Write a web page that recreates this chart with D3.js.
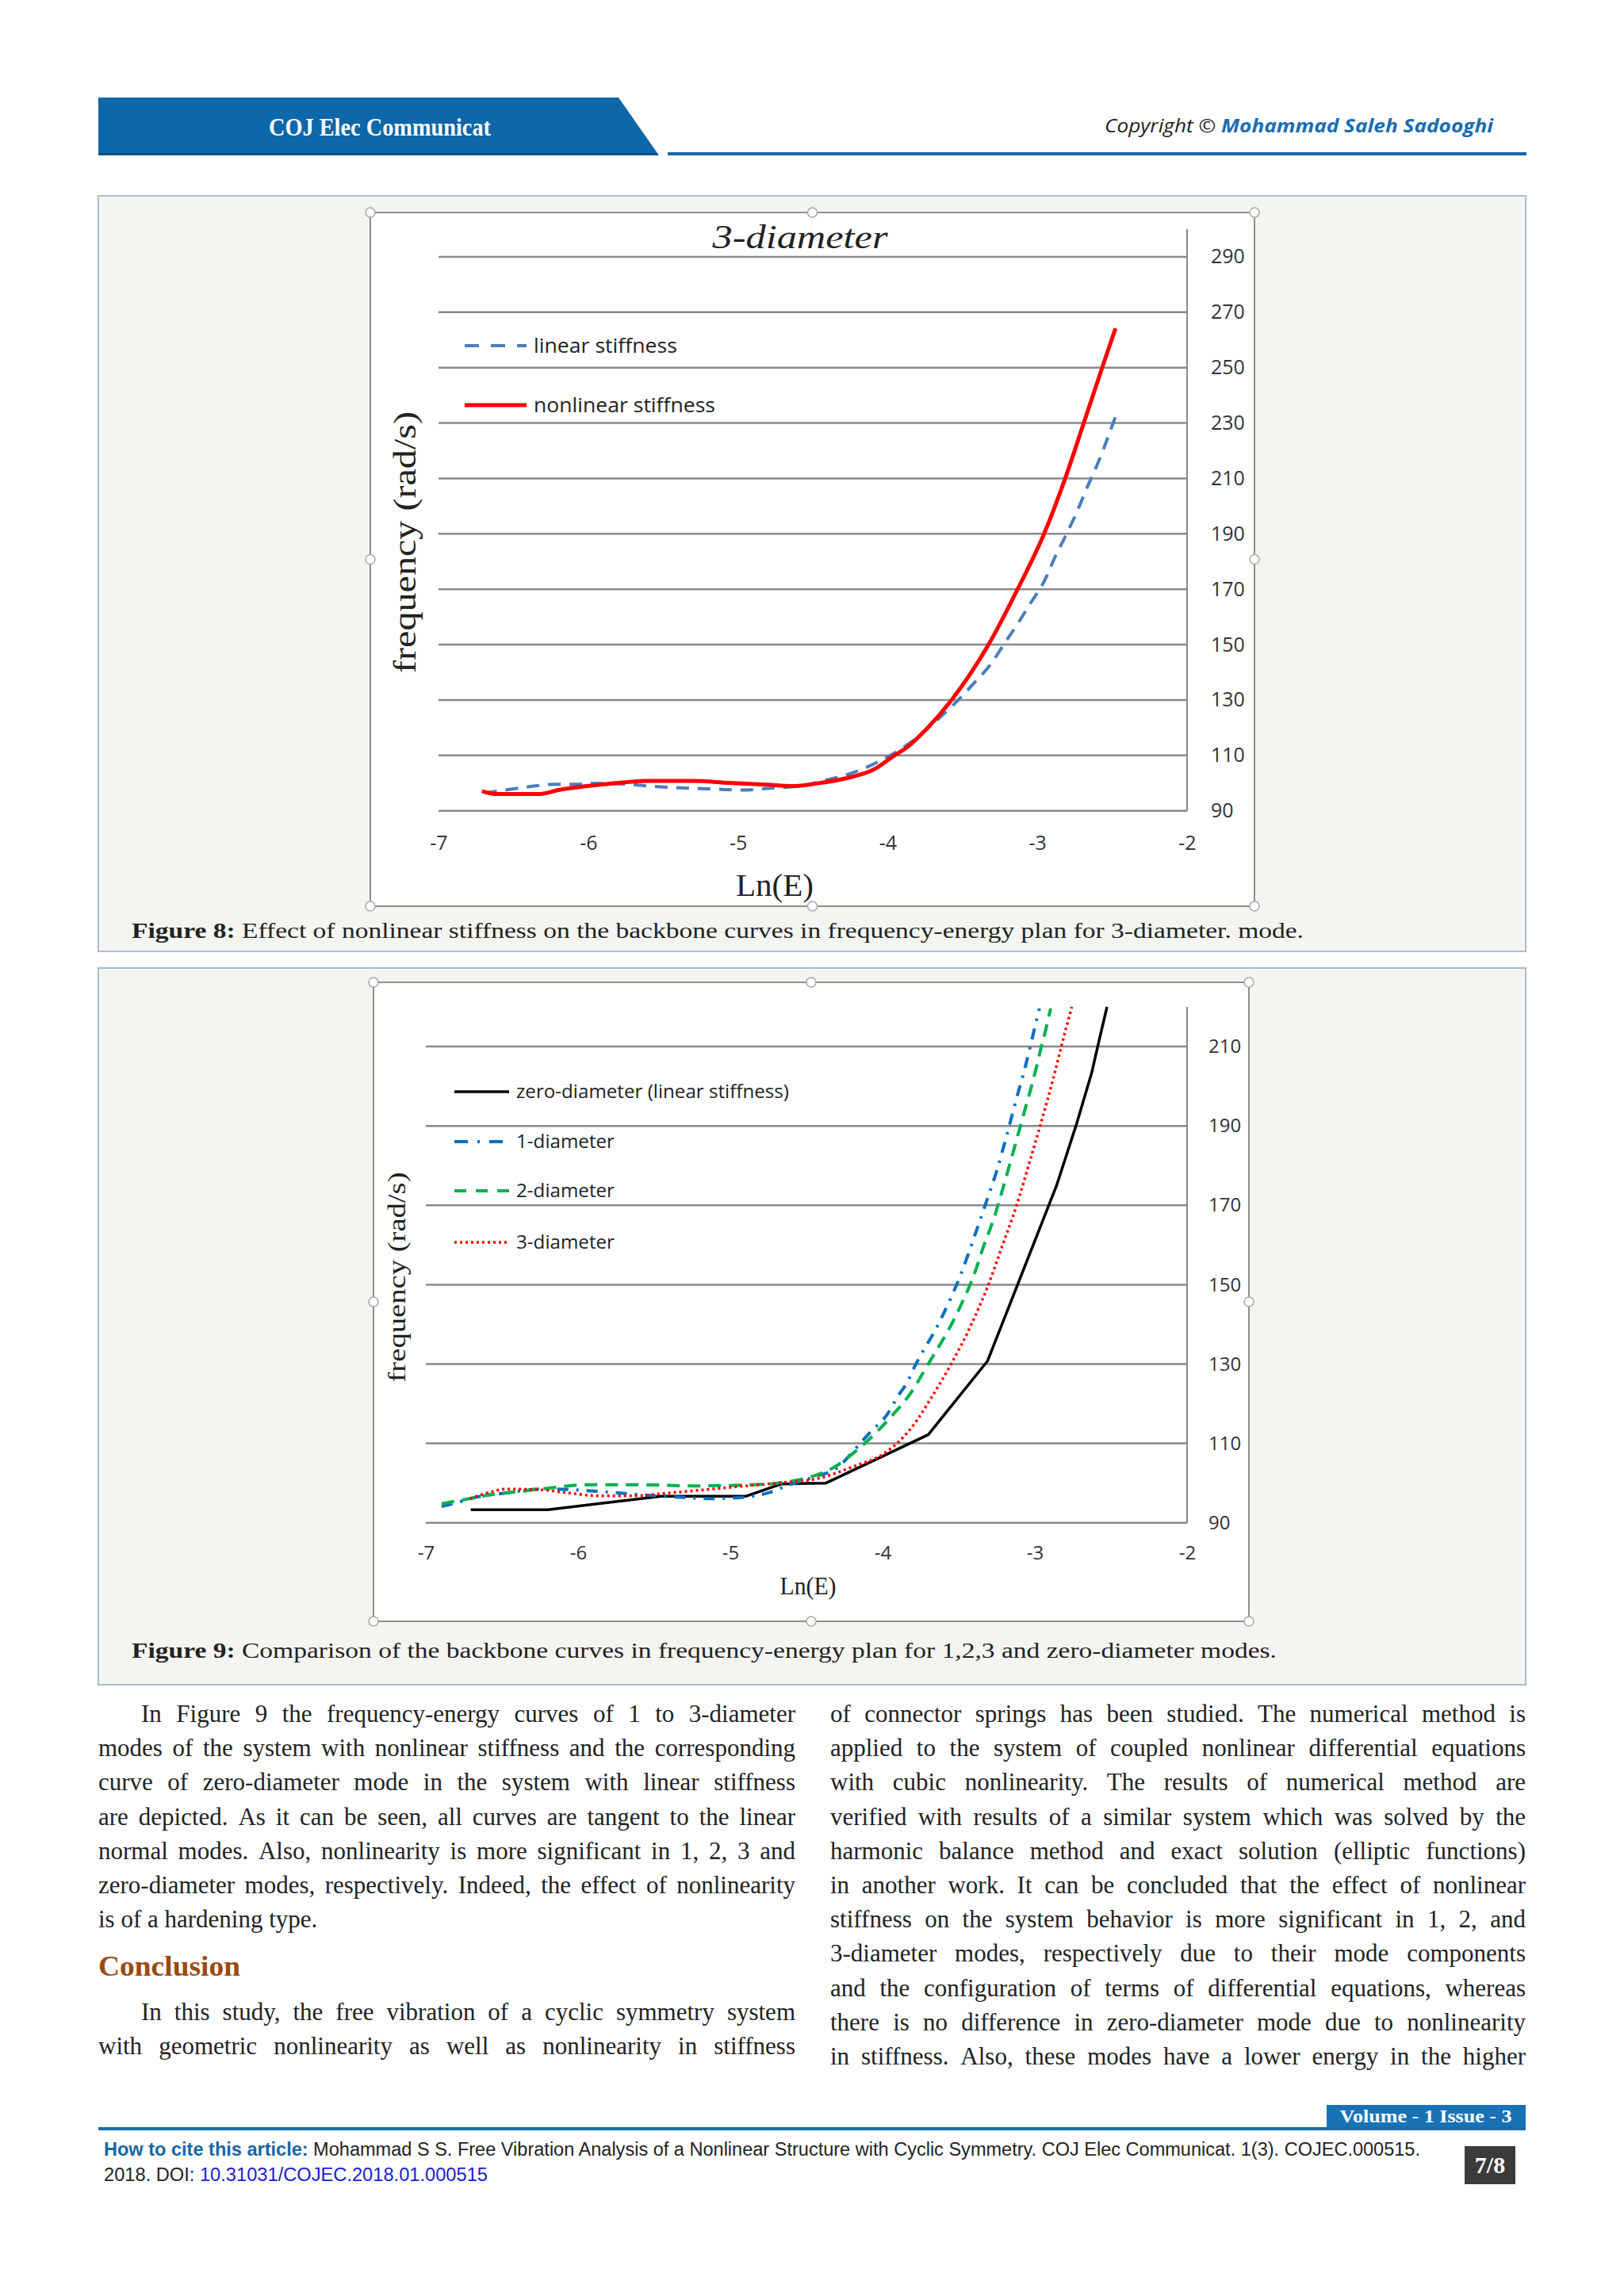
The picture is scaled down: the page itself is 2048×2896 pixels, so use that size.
<!DOCTYPE html>
<html><head><meta charset="utf-8">
<script src="https://cdn.jsdelivr.net/npm/d3@7"></script>
<style>body{margin:0;background:#fff;} svg{display:block;}</style>
</head><body>
<svg id="page" width="2048" height="2896"></svg>
<script>
// ---------------- DATA ----------------
const xTicks = [-7, -6, -5, -4, -3, -2];
const yTicks8 = [90, 110, 130, 150, 170, 190, 210, 230, 250, 270, 290];
const yTicks9 = [90, 110, 130, 150, 170, 190, 210];

// Figure 8 : 3-diameter
const lnE_linear = [-6.694, -6.529, -6.364, -6.22, -6.08, -5.94, -5.75, -5.58, -5.35, -5.18, -4.97, -4.755, -4.59, -4.426, -4.235, -4.07, -3.926, -3.80, -3.68, -3.556, -3.432, -3.308, -3.22, -3.132, -3.044, -2.955, -2.876, -2.805, -2.735, -2.673, -2.602, -2.54, -2.478];
const freq_linear = [96.4, 97.7, 98.9, 99.6, 99.6, 99.9, 99.6, 98.9, 98.2, 97.9, 97.5, 98.3, 98.9, 100.9, 103.7, 107.5, 111.8, 116.6, 122.3, 128.5, 135.6, 143.2, 150.4, 157.5, 165.1, 172.8, 182.3, 190, 198, 206.1, 214.7, 223.2, 232.3];
const lnE_nonlinear = [-6.71, -6.62, -6.32, -6.20, -6.01, -5.77, -5.61, -5.30, -5.06, -4.80, -4.64, -4.47, -4.235, -4.10, -3.955, -3.873, -3.75, -3.573, -3.326, -3.132, -2.955, -2.814, -2.69, -2.567, -2.478];
const freq_nonlinear = [97.1, 96.1, 96.1, 97.5, 98.9, 100.2, 100.8, 100.8, 100.1, 99.4, 98.9, 99.9, 102.3, 104.7, 110, 112.8, 119, 130, 150, 170, 190, 210, 230, 250, 264.2];

// Figure 9 : comparison
const lnE_zero = [-6.705, -6.198, -5.453, -4.896, -4.663, -4.372, -3.70, -3.31, -2.857, -2.73, -2.627, -2.583, -2.526];
const freq_zero = [93.3, 93.3, 96.7, 96.7, 99.8, 100, 112.2, 130.8, 175, 190, 203.3, 210.7, 220];
const lnE_d1 = [-6.896, -6.755, -6.663, -6.477, -6.245, -6.15, -5.94, -5.826, -5.594, -5.36, -5.128, -4.896, -4.756, -4.617, -4.454, -4.29, -4.175, -4.082, -3.966, -3.896, -3.838, -3.79, -3.625, -3.485, -3.398, -3.32, -3.25, -3.182, -3.122, -3.06, -3.026, -2.97];
const freq_d1 = [94.1, 95.5, 96.5, 97.5, 98.5, 98.5, 98.1, 97.8, 97.1, 96.5, 96.1, 96.5, 97.5, 99.5, 101.5, 104.1, 108.8, 112.8, 117.5, 122.1, 125.4, 129.3, 140.7, 152.7, 162, 170.7, 178.7, 188, 196.7, 205.3, 210.7, 219.6];
const lnE_d2 = [-6.896, -6.755, -6.57, -6.407, -6.175, -5.94, -5.594, -5.245, -4.896, -4.663, -4.477, -4.314, -4.175, -4.059, -3.943, -3.826, -3.70, -3.512, -3.391, -3.339, -3.269, -3.182, -3.104, -3.07, -3.026, -2.99, -2.957, -2.93, -2.896];
const freq_d2 = [94.8, 95.8, 97.1, 97.8, 98.8, 99.6, 99.6, 99.3, 99.5, 100.1, 101.5, 104.1, 108.1, 112.1, 116.8, 122.1, 130, 142.7, 153.4, 159.4, 166.7, 178, 188.7, 193.4, 199.4, 204.7, 210, 214, 219.6];
const lnE_d3 = [-6.709, -6.57, -6.477, -6.245, -6.058, -5.872, -5.64, -5.407, -5.175, -4.896, -4.663, -4.43, -4.198, -3.966, -3.807, -3.68, -3.55, -3.408, -3.304, -3.217, -3.122, -3.026, -2.965, -2.87, -2.826, -2.757];
const freq_d3 = [96.1, 97.8, 98.5, 98.3, 97.5, 96.8, 96.8, 97.5, 98.3, 99.3, 100.1, 101.1, 104.1, 108.1, 114.1, 121.5, 130, 140.7, 150.1, 159.4, 169.7, 182, 190, 203.3, 210, 220];

const legend8 = ["linear stiffness", "nonlinear stiffness"];
const legend9 = ["zero-diameter (linear stiffness)", "1-diameter", "2-diameter", "3-diameter"];

const leftLines = [
 "In Figure 9 the frequency-energy curves of 1 to 3-diameter",
 "modes of the system with nonlinear stiffness and the corresponding",
 "curve of zero-diameter mode in the system with linear stiffness",
 "are depicted. As it can be seen, all curves are tangent to the linear",
 "normal modes. Also, nonlinearity is more significant in 1, 2, 3 and",
 "zero-diameter modes, respectively. Indeed, the effect of nonlinearity",
 "is of a hardening type."
];
const leftLines2 = [
 "In this study, the free vibration of a cyclic symmetry system",
 "with geometric nonlinearity as well as nonlinearity in stiffness"
];
const rightLines = [
 "of connector springs has been studied. The numerical method is",
 "applied to the system of coupled nonlinear differential equations",
 "with cubic nonlinearity. The results of numerical method are",
 "verified with results of a similar system which was solved by the",
 "harmonic balance method and exact solution (elliptic functions)",
 "in another work. It can be concluded that the effect of nonlinear",
 "stiffness on the system behavior is more significant in 1, 2, and",
 "3-diameter modes, respectively due to their mode components",
 "and the configuration of terms of differential equations, whereas",
 "there is no difference in zero-diameter mode due to nonlinearity",
 "in stiffness. Also, these modes have a lower energy in the higher"
];

// ---------------- DRAW ----------------
const svg = d3.select('#page');
const zip = (xs, ys) => xs.map((x, i) => ({x, y: ys[i]}));

// Header
svg.append('polygon').attr('points', '124,123 780,123 831,196 124,196').attr('fill', '#0d67a8');
svg.append('rect').attr('x', 124).attr('y', 193).attr('width', 705).attr('height', 3).attr('fill', '#0a4f85');
svg.append('rect').attr('x', 842).attr('y', 192).attr('width', 1083).attr('height', 4).attr('fill', '#1565a5');
svg.append('text').attr('x', 339).attr('y', 171).attr('font-family', 'Liberation Serif').attr('font-size', 32)
  .attr('font-weight', 'bold').attr('fill', '#fff').attr('textLength', 280).attr('lengthAdjust', 'spacingAndGlyphs').text('COJ Elec Communicat');
const cp = svg.append('text').attr('x', 1393).attr('y', 167).attr('font-family', 'Open Sans').attr('font-size', 24)
  .attr('font-style', 'italic').attr('textLength', 490).attr('lengthAdjust', 'spacingAndGlyphs');
cp.append('tspan').attr('fill', '#222').text('Copyright © ');
cp.append('tspan').attr('fill', '#1a6db0').attr('font-weight', 'bold').text('Mohammad Saleh Sadooghi');

// Panels
function panel(y0, y1) {
  svg.append('rect').attr('x', 124).attr('y', y0).attr('width', 1800).attr('height', y1 - y0)
    .attr('fill', '#f4f5f1').attr('stroke', '#a9bdd6').attr('stroke-width', 2);
}
panel(247, 1200);
panel(1221, 2125);

function chartBox(x0, y0, x1, y1) {
  svg.append('rect').attr('x', x0).attr('y', y0).attr('width', x1 - x0).attr('height', y1 - y0)
    .attr('fill', '#fff').attr('stroke', '#8f8f8f').attr('stroke-width', 2);
  const mx = (x0 + x1) / 2, my = (y0 + y1) / 2;
  [[x0, y0], [x1, y0], [x0, y1], [x1, y1], [mx, y0], [mx, y1], [x0, my], [x1, my]].forEach(([cx, cy]) => {
    svg.append('circle').attr('cx', cx).attr('cy', cy).attr('r', 6).attr('fill', '#fff')
      .attr('stroke', '#a8a8a8').attr('stroke-width', 1.5);
  });
}

function drawChart(cfg) {
  const g = svg.append('g');
  const x = d3.scaleLinear().domain([-7, -2]).range(cfg.xr);
  const y = d3.scaleLinear().domain(cfg.yd).range(cfg.yr);
  g.append('g').selectAll('line').data(cfg.yTicks).join('line')
    .attr('x1', x(-7)).attr('x2', x(-2)).attr('y1', d => y(d)).attr('y2', d => y(d))
    .attr('stroke', '#8a8a8a').attr('stroke-width', 2.5);
  g.append('line').attr('x1', x(-2)).attr('x2', x(-2)).attr('y1', y(cfg.yd[1])).attr('y2', y(cfg.yd[0]))
    .attr('stroke', '#8a8a8a').attr('stroke-width', 2);
  const ya = g.append('g').attr('transform', `translate(${x(-2)},0)`)
    .call(d3.axisRight(y).tickValues(cfg.yTicks).tickSize(0).tickPadding(cfg.yPad).tickFormat(d => String(d)));
  ya.select('.domain').remove();
  ya.selectAll('text').attr('font-family', 'Open Sans').attr('font-size', cfg.tickFs).attr('fill', '#333');
  const xa = g.append('g').attr('transform', `translate(0,${y(cfg.yd[0])})`)
    .call(d3.axisBottom(x).tickValues(xTicks).tickSize(0).tickFormat(d => String(d)));
  xa.select('.domain').remove();
  xa.selectAll('text').attr('y', cfg.xPad).attr('dy', '0.35em')
    .attr('font-family', 'Open Sans').attr('font-size', cfg.tickFs).attr('fill', '#333');
  cfg.series.forEach(s => {
    const line = d3.line().x(d => x(d.x)).y(d => y(d.y)).curve(s.curve || d3.curveMonotoneX);
    g.append('path').datum(zip(s.xs, s.ys)).attr('d', line).attr('fill', 'none')
      .attr('stroke', s.color).attr('stroke-width', s.w).attr('stroke-dasharray', s.dash || null)
      .attr('stroke-linejoin', 'round').attr('stroke-linecap', s.cap || 'butt');
  });
  cfg.legend.forEach((L) => {
    const s = cfg.series[L.si];
    g.append('line').attr('x1', L.lx0).attr('x2', L.lx1).attr('y1', L.ly).attr('y2', L.ly)
      .attr('stroke', s.color).attr('stroke-width', s.w).attr('stroke-dasharray', L.dash || s.dash || null);
    g.append('text').attr('x', L.tx).attr('y', L.ly).attr('dy', '0.35em')
      .attr('font-family', 'Open Sans').attr('font-size', cfg.legFs).attr('fill', '#222')
      .attr('textLength', L.tw).attr('lengthAdjust', 'spacingAndGlyphs').text(L.label);
  });
  g.append('text').attr('x', cfg.xt.x).attr('y', cfg.xt.y).attr('text-anchor', 'middle')
    .attr('font-family', 'Liberation Serif').attr('font-size', cfg.xt.fs).attr('fill', '#222')
    .attr('textLength', cfg.xt.w).attr('lengthAdjust', 'spacingAndGlyphs').text('Ln(E)');
  g.append('text').attr('transform', `translate(${cfg.yt.x},${cfg.yt.y}) rotate(-90)`)
    .attr('text-anchor', 'middle').attr('dy', '0.35em')
    .attr('font-family', 'Liberation Serif').attr('font-size', cfg.yt.fs).attr('fill', '#222')
    .attr('textLength', cfg.yt.w).attr('lengthAdjust', 'spacingAndGlyphs').text(cfg.yt.text);
}

// Figure 8
chartBox(467, 268, 1582, 1143);
drawChart({
  xr: [553, 1497], yd: [90, 300], yr: [1022.7, 289], yTicks: yTicks8, yPad: 30, xPad: 41, tickFs: 25, legFs: 26,
  series: [
    {xs: lnE_linear, ys: freq_linear, color: '#4a7ebb', w: 4, dash: '16,11'},
    {xs: lnE_nonlinear, ys: freq_nonlinear, color: '#ff0000', w: 5}
  ],
  legend: [
    {si: 0, label: legend8[0], lx0: 586, lx1: 664, ly: 436, tx: 673, tw: 181, dash: '18,15'},
    {si: 1, label: legend8[1], lx0: 586, lx1: 664, ly: 511, tx: 673, tw: 229}
  ],
  xt: {x: 977, y: 1130, fs: 40, w: 98},
  yt: {x: 510, y: 684, fs: 40, w: 330, text: 'frequency  (rad/s)'}
});
svg.append('text').attr('x', 1009).attr('y', 313).attr('text-anchor', 'middle')
  .attr('font-family', 'Liberation Serif').attr('font-style', 'italic').attr('font-size', 42).attr('fill', '#222')
  .attr('textLength', 221).attr('lengthAdjust', 'spacingAndGlyphs').text('3-diameter');

// Figure 9
chartBox(471, 1239, 1575, 2045);
drawChart({
  xr: [537, 1497], yd: [90, 220], yr: [1920.7, 1270], yTicks: yTicks9, yPad: 27, xPad: 38, tickFs: 24, legFs: 24,
  series: [
    {xs: lnE_zero, ys: freq_zero, color: '#000000', w: 3.5, curve: d3.curveLinear},
    {xs: lnE_d1, ys: freq_d1, color: '#0070c0', w: 4, dash: '14,10,3,10'},
    {xs: lnE_d2, ys: freq_d2, color: '#00b050', w: 4, dash: '16,10'},
    {xs: lnE_d3, ys: freq_d3, color: '#ff0000', w: 3.5, dash: '3,4'}
  ],
  legend: [
    {si: 0, label: legend9[0], lx0: 573, lx1: 642, ly: 1377, tx: 651, tw: 344},
    {si: 1, label: legend9[1], lx0: 573, lx1: 642, ly: 1440, tx: 651, tw: 124, dash: '17,12,3,12'},
    {si: 2, label: legend9[2], lx0: 573, lx1: 642, ly: 1502, tx: 651, tw: 124, dash: '15,12'},
    {si: 3, label: legend9[3], lx0: 573, lx1: 642, ly: 1567, tx: 651, tw: 124}
  ],
  xt: {x: 1019, y: 2011, fs: 31, w: 71},
  yt: {x: 500, y: 1611, fs: 32, w: 265, text: 'frequency (rad/s)'}
});

// Captions
function caption(y, label, rest, w) {
  const t = svg.append('text').attr('x', 166).attr('y', y).attr('font-family', 'Liberation Serif')
    .attr('font-size', 28).attr('fill', '#222').attr('textLength', w).attr('lengthAdjust', 'spacingAndGlyphs');
  t.append('tspan').attr('font-weight', 'bold').text(label);
  t.append('tspan').text(rest);
}
caption(1183, 'Figure 8:', ' Effect of nonlinear stiffness on the backbone curves in frequency-energy plan for 3-diameter. mode.', 1478);
caption(2091, 'Figure 9:', ' Comparison of the backbone curves in frequency-energy plan for 1,2,3 and zero-diameter modes.', 1444);

// Body text
const body = svg.append('g').attr('font-family', 'Liberation Serif').attr('font-size', 31).attr('fill', '#222');
function textLine(str, x0, x1, y, justify) {
  if (!justify) { body.append('text').attr('x', x0).attr('y', y).text(str); return; }
  const words = str.split(' ');
  const nodes = words.map(w => body.append('text').attr('y', y).text(w));
  const ws = nodes.map(n => n.node().getComputedTextLength());
  const gap = (x1 - x0 - d3.sum(ws)) / (words.length - 1);
  if (gap < 5) {
    nodes.forEach(n => n.remove());
    body.append('text').attr('x', x0).attr('y', y).attr('textLength', x1 - x0)
      .attr('lengthAdjust', 'spacingAndGlyphs').text(str);
    return;
  }
  let x = x0;
  nodes.forEach((n, i) => { n.attr('x', x); x += ws[i] + gap; });
}
const pitch = 43.2, base = 2172;
leftLines.forEach((s, i) => textLine(s, i === 0 ? 178 : 124, 1003, base + i * pitch, i < leftLines.length - 1));
leftLines2.forEach((s, i) => textLine(s, i === 0 ? 178 : 124, 1003, 2548 + i * pitch, true));
rightLines.forEach((s, i) => textLine(s, 1047, 1924, base + i * pitch, true));
svg.append('text').attr('x', 124).attr('y', 2492).attr('font-family', 'Liberation Serif').attr('font-weight', 'bold')
  .attr('font-size', 35).attr('fill', '#9b4a12').attr('textLength', 179).attr('lengthAdjust', 'spacingAndGlyphs').text('Conclusion');

// Footer
svg.append('rect').attr('x', 1673).attr('y', 2655).attr('width', 251).attr('height', 28).attr('fill', '#1a72b6');
svg.append('text').attr('x', 1798).attr('y', 2677).attr('text-anchor', 'middle').attr('font-family', 'Liberation Serif')
  .attr('font-weight', 'bold').attr('font-size', 23).attr('fill', '#fff').attr('textLength', 217)
  .attr('lengthAdjust', 'spacingAndGlyphs').text('Volume - 1 Issue - 3');
svg.append('rect').attr('x', 124).attr('y', 2683).attr('width', 1800).attr('height', 4).attr('fill', '#1b6aa5');
const c1 = svg.append('text').attr('x', 131).attr('y', 2719).attr('font-family', 'Liberation Sans').attr('font-size', 23)
  .attr('textLength', 1660).attr('lengthAdjust', 'spacingAndGlyphs');
c1.append('tspan').attr('fill', '#1565a8').attr('font-weight', 'bold').text('How to cite this article: ');
c1.append('tspan').attr('fill', '#222').text('Mohammad S S. Free Vibration Analysis of a Nonlinear Structure with Cyclic Symmetry. COJ Elec Communicat. 1(3). COJEC.000515.');
const c2 = svg.append('text').attr('x', 131).attr('y', 2751).attr('font-family', 'Liberation Sans').attr('font-size', 23)
  .attr('textLength', 484).attr('lengthAdjust', 'spacingAndGlyphs');
c2.append('tspan').attr('fill', '#222').text('2018. DOI: ');
c2.append('tspan').attr('fill', '#1a1ad6').text('10.31031/COJEC.2018.01.000515');
svg.append('rect').attr('x', 1847).attr('y', 2707).attr('width', 64).attr('height', 48).attr('fill', '#3b3b3b');
svg.append('text').attr('x', 1879).attr('y', 2741).attr('text-anchor', 'middle').attr('font-family', 'Liberation Serif')
  .attr('font-weight', 'bold').attr('font-size', 30).attr('fill', '#fff').text('7/8');
</script>
</body></html>
